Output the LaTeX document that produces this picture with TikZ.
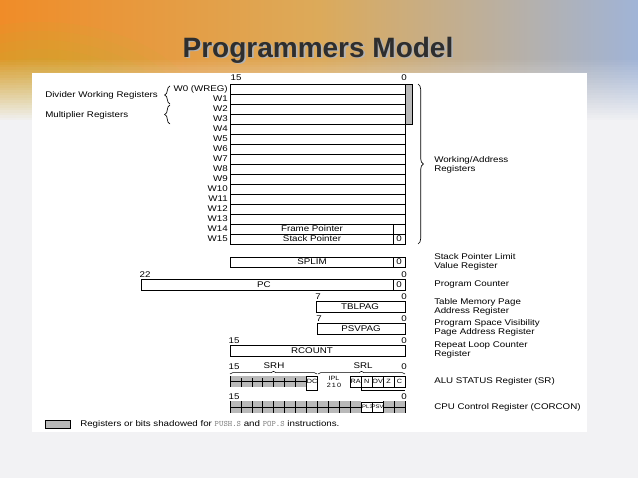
\documentclass[tikz,border=0pt]{standalone}
\usepackage{fontspec}
\setmainfont{Liberation Sans}
\newfontfamily\lblfont[FakeStretch=1.18]{Liberation Sans}
\usetikzlibrary{decorations.pathreplacing}
\definecolor{bgw}{RGB}{242,242,244}
\definecolor{bgb}{RGB}{160,180,215}
\definecolor{bgm}{RGB}{220,170,90}
\definecolor{bgo}{RGB}{240,140,40}
\definecolor{bgg}{RGB}{175,195,45}
\begin{document}
\begin{tikzpicture}[x=0.75pt,y=-0.75pt,
  lbl/.style={font=\lblfont\fontsize{6.2}{6.8}\selectfont, inner sep=0pt},
  sm/.style={font=\lblfont\fontsize{4.6}{5}\selectfont, inner sep=0pt},
  reg/.style={draw, line width=0.5pt},
  shad/.style={fill=gray!55},
  brc/.style={decorate, decoration={brace, amplitude=4pt}, line width=0.5pt}]
\useasboundingbox (0,0) rectangle (638,478);
% background
\fill[bgw] (0,0) rectangle (638,478);
\shade[left color=bgo, right color=bgb, middle color=bgm] (0,0) rectangle (638,120);
\foreach \k in {1,...,12}{
  \fill[bgg, opacity=0.07] (40,130) ellipse ({14*\k} and {9*\k});
}
\foreach \k in {0,...,24}{
  \fill[bgw, opacity={0.04+0.04*\k}] (0,{60+2.5*\k}) rectangle (638,{62.5+2.5*\k});
}
\fill[bgw] (0,120) rectangle (638,478);
\node[font=\bfseries\fontsize{21}{23}\selectfont, text=black!30, inner sep=0pt] at (319.8,51.5) {Programmers Model};
\node (title) [font=\bfseries\fontsize{21}{23}\selectfont, text=black!82, inner sep=0pt] at (318,50) {Programmers Model};
% panel
\fill[white] (32,73) rectangle (587,432);
% W registers
\node[lbl] (b15) at (236,78) {15};
\node[lbl] (b0) at (404,78) {0};
\foreach \i/\t in {0/W0 (WREG),1/W1,2/W2,3/W3,4/W4,5/W5,6/W6,7/W7,8/W8,9/W9,10/W10,11/W11,12/W12,13/W13,14/W14,15/W15}{
  \draw[reg] (230,84+10*\i) rectangle (405,94+10*\i);
  \node[lbl, anchor=east] (w\i) at (228,89+10*\i) {\t};
}
\draw[reg] (393,224) -- (393,244);
\node[lbl] (fp) at (312,229) {Frame Pointer};
\node[lbl] (sp) at (312,239) {Stack Pointer};
\node[lbl] (sp0) at (399,239) {0};
\draw[reg, shad] (405,84) rectangle (412,124);
\draw[brc] (418,84) -- (418,244);
\node[lbl, anchor=west, align=left] (wa) at (434,165) {Working/Address\\Registers};
\draw[brc] (170,104) -- (170,86);
\draw[brc] (170,124) -- (170,105);
\node[lbl, anchor=west] (dw) at (45,95) {Divider Working Registers};
\node[lbl, anchor=west] (mr) at (45,115) {Multiplier Registers};
% SPLIM
\draw[reg] (230,257) rectangle (405,267);
\draw[reg] (393,257) -- (393,267);
\node[lbl] (splim) at (312,262) {SPLIM};
\node[lbl] at (399,262) {0};
\node[lbl, anchor=west, align=left] at (434,262) {Stack Pointer Limit\\Value Register};
% PC
\node[lbl] at (145,275) {22};
\node[lbl] at (404,275) {0};
\draw[reg] (141,279) rectangle (405,290);
\draw[reg] (393,279) -- (393,290);
\node[lbl] (pc) at (264,284.5) {PC};
\node[lbl] at (399,284.5) {0};
\node[lbl, anchor=west] at (434,284.5) {Program Counter};
% TBLPAG
\node[lbl] at (318,297) {7};
\node[lbl] at (404,297) {0};
\draw[reg] (316,301) rectangle (405,312);
\node[lbl] (tbl) at (360,306.5) {TBLPAG};
\node[lbl, anchor=west, align=left] at (434,306.5) {Table Memory Page\\Address Register};
% PSVPAG
\node[lbl] at (319,319) {7};
\node[lbl] at (404,319) {0};
\draw[reg] (317,323) rectangle (405,334);
\node[lbl] (psv) at (361,328.5) {PSVPAG};
\node[lbl, anchor=west, align=left] at (434,328) {Program Space Visibility\\Page Address Register};
% RCOUNT
\node[lbl] at (234,341) {15};
\node[lbl] at (404,341) {0};
\draw[reg] (230,345) rectangle (405,356);
\node[lbl] (rc) at (312,350.5) {RCOUNT};
\node[lbl, anchor=west, align=left] at (434,350) {Repeat Loop Counter\\Register};
% SR
\node[lbl] at (234,367) {15};
\node[lbl] at (274,366) {SRH};
\node[lbl] at (363,366) {SRL};
\node[lbl] at (404,367) {0};
\draw[decorate, decoration={brace, amplitude=2pt}, line width=0.4pt] (230,374) -- (317,374);
\draw[decorate, decoration={brace, amplitude=2pt}, line width=0.4pt] (318,374) -- (405,374);
\def\bw{10.9375}
\foreach \b in {15,...,9}{
  \fill[gray!55] ({405-(\b+1)*\bw},376) rectangle ({405-\b*\bw},387);
  \draw[reg] ({405-(\b+1)*\bw},378) -- ({405-(\b+1)*\bw},387);
}
\draw[reg] (230,381.5) -- (306.6,381.5);
\draw[reg] (230,376) -- (230,387);
\draw[reg] (306.6,376) rectangle (317.5,390);
\node[sm] at (312,381.5) {DC};
\node[sm] at (334,378.5) {IPL};
\node[sm] at (334,385) {2\,1\,0};
\draw[reg] (350.3,376) rectangle (361.2,387);
\node[sm] at (355.7,381.5) {RA};
\foreach \b/\t in {3/N,2/OV,1/Z,0/C}{
  \draw[reg] ({405-(\b+1)*\bw},376) rectangle ({405-\b*\bw},387);
  \node[sm] at ({405-(\b+0.5)*\bw},381.5) {\t};
}
\draw[reg] (361.2,387) -- (361.2,390) -- (405,390);
\node[lbl, anchor=west] at (434,381.5) {ALU STATUS Register (SR)};
% CORCON
\node[lbl] at (234,397) {15};
\node[lbl] at (404,397) {0};
\foreach \b in {15,...,4,1,0}{
  \fill[gray!55] ({405-(\b+1)*\bw},401) rectangle ({405-\b*\bw},413);
  \draw[reg] ({405-(\b+1)*\bw},401) -- ({405-(\b+1)*\bw},413);
  \draw[reg] ({405-(\b+1)*\bw},407) -- ({405-\b*\bw},407);
}
\draw[reg] (405,401) -- (405,413);
\draw[reg] ({405-4*\bw},402) rectangle ({405-2*\bw},412);
\draw[reg] ({405-3*\bw},402) -- ({405-3*\bw},412);
\node[sm, font=\lblfont\fontsize{3.8}{4}\selectfont] at ({405-3.5*\bw},407) {IPL3};
\node[sm, font=\lblfont\fontsize{3.8}{4}\selectfont] at ({405-2.5*\bw},407) {PSV};
\node[lbl, anchor=west] at (434,407) {CPU Control Register (CORCON)};
% legend
\draw[reg, shad] (45,420) rectangle (70,428);
\node[lbl, anchor=west] (leg) at (80,424) {Registers or bits shadowed for {\ttfamily\color{gray}PUSH.S} and {\ttfamily\color{gray}POP.S} instructions.};
\end{tikzpicture}
\end{document}
